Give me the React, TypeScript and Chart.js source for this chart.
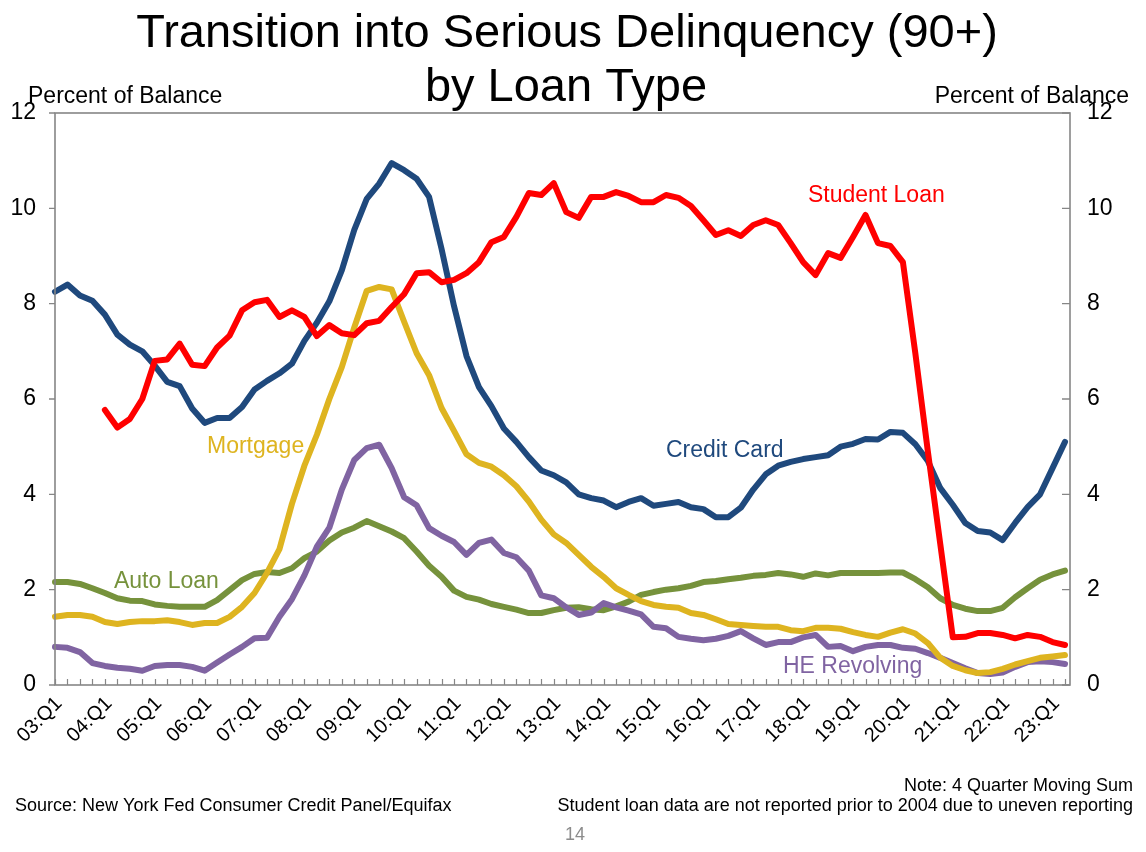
import React, { useEffect, useRef } from 'react';
import { Chart, registerables } from 'chart.js';

Chart.register(...registerables);

const FONT = '"Liberation Sans", Arial, Helvetica, sans-serif';

// Year tick labels (every 4th quarter)
const TICK_LABELS = [
  '03:Q1', '04:Q1', '05:Q1', '06:Q1', '07:Q1', '08:Q1', '09:Q1', '10:Q1', '11:Q1', '12:Q1',
  '13:Q1', '14:Q1', '15:Q1', '16:Q1', '17:Q1', '18:Q1', '19:Q1', '20:Q1', '21:Q1', '22:Q1', '23:Q1',
];

// Quarterly categories 03:Q1 .. 23:Q2
const QUARTERS: string[] = [];
for (let yr = 3; yr <= 23; yr++) {
  for (let q = 1; q <= 4; q++) {
    if (yr === 23 && q > 2) break;
    QUARTERS.push(`${String(yr).padStart(2, '0')}:Q${q}`);
  }
}

const CREDIT_CARD = [
  8.25, 8.40, 8.17, 8.06, 7.77, 7.35, 7.14, 7.00, 6.70, 6.36,
  6.27, 5.80, 5.50, 5.60, 5.60, 5.83, 6.20, 6.38, 6.54, 6.74,
  7.22, 7.60, 8.05, 8.70, 9.55, 10.20, 10.52, 10.95, 10.80, 10.62,
  10.24, 9.15, 7.95, 6.90, 6.25, 5.85, 5.38, 5.10, 4.78, 4.50,
  4.40, 4.25, 4.00, 3.92, 3.87, 3.73, 3.84, 3.92, 3.76, 3.80,
  3.84, 3.73, 3.69, 3.52, 3.52, 3.72, 4.10, 4.42, 4.60, 4.68,
  4.74, 4.78, 4.82, 5.00, 5.06, 5.16, 5.15, 5.31, 5.29, 5.05,
  4.70, 4.13, 3.78, 3.40, 3.23, 3.20, 3.04, 3.40, 3.73, 4.00,
  4.55, 5.10,
];

const STUDENT_LOAN = [
  null, null, null, null, 5.77, 5.40, 5.58, 6.00, 6.80, 6.83,
  7.16, 6.72, 6.69, 7.08, 7.33, 7.86, 8.03, 8.08, 7.72, 7.86,
  7.72, 7.32, 7.55, 7.38, 7.34, 7.59, 7.64, 7.93, 8.20, 8.64,
  8.66, 8.45, 8.50, 8.64, 8.87, 9.29, 9.40, 9.82, 10.32, 10.28,
  10.53, 9.92, 9.80, 10.24, 10.24, 10.34, 10.26, 10.13, 10.13, 10.28,
  10.22, 10.05, 9.75, 9.44, 9.54, 9.42, 9.65, 9.75, 9.65, 9.27,
  8.87, 8.60, 9.06, 8.96, 9.40, 9.86, 9.27, 9.21, 8.87, 6.95,
  4.90, 2.95, 1.00, 1.01, 1.09, 1.09, 1.05, 0.98, 1.05, 1.01,
  0.90, 0.84,
];

const MORTGAGE = [
  1.43, 1.47, 1.47, 1.43, 1.32, 1.28, 1.32, 1.34, 1.34, 1.36,
  1.32, 1.26, 1.30, 1.30, 1.43, 1.64, 1.93, 2.35, 2.85, 3.80,
  4.60, 5.25, 6.00, 6.67, 7.50, 8.27, 8.35, 8.30, 7.62, 6.96,
  6.50, 5.81, 5.33, 4.84, 4.66, 4.58, 4.40, 4.17, 3.85, 3.47,
  3.16, 2.98, 2.73, 2.48, 2.27, 2.03, 1.89, 1.76, 1.68, 1.64,
  1.62, 1.51, 1.47, 1.38, 1.28, 1.26, 1.24, 1.22, 1.22, 1.15,
  1.13, 1.20, 1.20, 1.18, 1.11, 1.05, 1.01, 1.10, 1.17, 1.08,
  0.88, 0.57, 0.40, 0.31, 0.25, 0.27, 0.34, 0.43, 0.50, 0.57,
  0.60, 0.63,
];

const AUTO_LOAN = [
  2.16, 2.16, 2.12, 2.03, 1.93, 1.82, 1.77, 1.76, 1.69, 1.66,
  1.64, 1.64, 1.64, 1.78, 1.99, 2.20, 2.33, 2.37, 2.35, 2.45,
  2.66, 2.80, 3.03, 3.20, 3.30, 3.44, 3.33, 3.22, 3.08, 2.80,
  2.50, 2.27, 1.98, 1.85, 1.79, 1.70, 1.64, 1.58, 1.51, 1.51,
  1.57, 1.62, 1.63, 1.59, 1.57, 1.65, 1.75, 1.89, 1.95, 2.00,
  2.03, 2.08, 2.16, 2.18, 2.22, 2.25, 2.29, 2.31, 2.35, 2.32,
  2.27, 2.34, 2.30, 2.35, 2.35, 2.35, 2.35, 2.36, 2.36, 2.22,
  2.05, 1.82, 1.68, 1.60, 1.55, 1.55, 1.62, 1.84, 2.03, 2.21,
  2.32, 2.40,
];

const HE_REVOLVING = [
  0.80, 0.78, 0.69, 0.46, 0.40, 0.36, 0.34, 0.30, 0.40, 0.42,
  0.42, 0.38, 0.30, 0.47, 0.64, 0.80, 0.98, 0.99, 1.43, 1.80,
  2.30, 2.90, 3.30, 4.10, 4.72, 4.97, 5.04, 4.55, 3.94, 3.77,
  3.29, 3.13, 3.00, 2.73, 2.98, 3.05, 2.77, 2.68, 2.40, 1.88,
  1.82, 1.63, 1.47, 1.52, 1.72, 1.63, 1.56, 1.48, 1.22, 1.19,
  1.01, 0.97, 0.94, 0.97, 1.03, 1.13, 0.98, 0.84, 0.90, 0.90,
  1.00, 1.05, 0.80, 0.82, 0.71, 0.80, 0.84, 0.84, 0.78, 0.76,
  0.67, 0.57, 0.46, 0.35, 0.25, 0.23, 0.26, 0.38, 0.48, 0.50,
  0.48, 0.44,
];

const Y_TICKS = [0, 2, 4, 6, 8, 10, 12];

const COLORS = {
  student: '#FF0000',
  card: '#1F497D',
  mortgage: '#DEB420',
  auto: '#76923C',
  he: '#8064A2',
};

// Series name labels placed in data coordinates (quarter index, percent)
const SERIES_LABELS = [
  { text: 'Student Loan', q: 60.38, v: 10.13, color: COLORS.student },
  { text: 'Credit Card', q: 49.0, v: 4.78, color: COLORS.card },
  { text: 'Mortgage', q: 12.19, v: 4.87, color: COLORS.mortgage },
  { text: 'Auto Loan', q: 4.73, v: 2.03, color: COLORS.auto },
  { text: 'HE Revolving', q: 58.38, v: 0.25, color: COLORS.he },
];

const TITLE_LINES = ['Transition into Serious Delinquency (90+)', 'by Loan Type'];
const AXIS_TITLE = 'Percent of Balance';
const NOTE_1 = 'Note: 4 Quarter Moving Sum';
const NOTE_2 = 'Student loan data are not reported prior to 2004 due to uneven reporting';
const SOURCE = 'Source: New York Fed Consumer Credit Panel/Equifax';
const PAGE = '14';

export default function App() {
  const ref = useRef<HTMLCanvasElement | null>(null);

  useEffect(() => {
    document.body.style.margin = '0';
    const canvas = ref.current;
    if (!canvas) return;

    const toPts = (arr: (number | null)[]) => arr.map((v, i) => ({ x: i, y: v }));

    const overlay = {
      id: 'overlay',
      afterDraw(chart: any) {
        const { ctx, chartArea: a, scales } = chart;
        const xs = scales.x;
        const ys = scales.y;
        ctx.save();
        // plot frame
        ctx.strokeStyle = '#868686';
        ctx.lineWidth = 1.6;
        ctx.strokeRect(a.left, a.top, a.right - a.left, a.bottom - a.top);
        // quarter tick marks (inside)
        ctx.lineWidth = 1.2;
        ctx.beginPath();
        for (let i = 0; i < QUARTERS.length; i++) {
          const px = Math.round(xs.getPixelForValue(i)) + 0.5;
          ctx.moveTo(px, a.bottom);
          ctx.lineTo(px, a.bottom - 6);
        }
        ctx.stroke();
        // y tick marks
        ctx.lineWidth = 1.4;
        ctx.beginPath();
        for (const v of Y_TICKS) {
          const py = ys.getPixelForValue(v);
          ctx.moveTo(a.left - 6, py);
          ctx.lineTo(a.left, py);
          ctx.moveTo(a.right - 8, py);
          ctx.lineTo(a.right, py);
        }
        ctx.stroke();

        // series labels
        ctx.font = `23px ${FONT}`;
        ctx.textAlign = 'left';
        ctx.textBaseline = 'alphabetic';
        for (const l of SERIES_LABELS) {
          ctx.fillStyle = l.color;
          ctx.fillText(l.text, xs.getPixelForValue(l.q), ys.getPixelForValue(l.v));
        }

        // title
        ctx.fillStyle = '#000';
        ctx.font = `47px ${FONT}`;
        ctx.textAlign = 'center';
        ctx.fillText(TITLE_LINES[0], 567, 47);
        ctx.fillText(TITLE_LINES[1], 566, 101);

        // axis titles
        ctx.font = `23px ${FONT}`;
        ctx.textAlign = 'left';
        ctx.fillText(AXIS_TITLE, 28, 103);
        ctx.textAlign = 'right';
        ctx.fillText(AXIS_TITLE, 1129, 103);

        // notes
        ctx.font = `18px ${FONT}`;
        ctx.textAlign = 'right';
        ctx.fillText(NOTE_1, 1133, 791);
        ctx.fillText(NOTE_2, 1133, 811);
        ctx.textAlign = 'left';
        ctx.fillText(SOURCE, 15, 811);
        ctx.fillStyle = '#8c8c8c';
        ctx.textAlign = 'center';
        ctx.fillText(PAGE, 575, 840);
        ctx.restore();
      },
    };

    const line = (label: string, data: (number | null)[], color: string) => ({
      label,
      data: toPts(data),
      borderColor: color,
      backgroundColor: color,
      borderWidth: 6,
      pointRadius: 0,
      tension: 0,
      borderJoinStyle: 'round' as const,
      borderCapStyle: 'round' as const,
      spanGaps: false,
      yAxisID: 'y',
      clip: 8,
    });

    const chart = new Chart(canvas, {
      type: 'line',
      data: {
        datasets: [
          line('Student Loan', STUDENT_LOAN, COLORS.student),
          line('Credit Card', CREDIT_CARD, COLORS.card),
          line('Mortgage', MORTGAGE, COLORS.mortgage),
          line('HE Revolving', HE_REVOLVING, COLORS.he),
          line('Auto Loan', AUTO_LOAN, COLORS.auto),
        ],
      },
      options: {
        animation: false,
        responsive: false,
        maintainAspectRatio: false,
        layout: { padding: { top: 113, left: 0, right: 0, bottom: 0 } },
        plugins: {
          legend: { display: false },
          tooltip: { enabled: false },
          title: { display: false },
        },
        scales: {
          x: {
            type: 'linear',
            position: 'bottom',
            min: 0,
            max: 81.4,
            grid: { display: false, drawTicks: false },
            border: { display: false },
            afterBuildTicks: (scale: any) => {
              scale.ticks = TICK_LABELS.map((_, k) => ({ value: k * 4 }));
            },
            afterFit: (scale: any) => {
              scale.height = 167;
            },
            ticks: {
              autoSkip: false,
              minRotation: 45,
              maxRotation: 45,
              padding: 7,
              labelOffset: 4,
              color: '#000',
              font: { family: FONT, size: 20 },
              callback: (v: any) => TICK_LABELS[Math.round(Number(v) / 4)] ?? '',
            },
          },
          y: {
            type: 'linear',
            position: 'left',
            min: 0,
            max: 12,
            grid: { display: false, drawTicks: false },
            border: { display: false },
            afterFit: (scale: any) => {
              scale.width = 55;
            },
            ticks: {
              stepSize: 2,
              padding: 19,
              color: '#000',
              font: { family: FONT, size: 23 },
            },
          },
          y2: {
            type: 'linear',
            position: 'right',
            min: 0,
            max: 12,
            grid: { display: false, drawTicks: false },
            border: { display: false },
            afterFit: (scale: any) => {
              scale.width = 76;
            },
            ticks: {
              stepSize: 2,
              padding: 17,
              color: '#000',
              font: { family: FONT, size: 23 },
            },
          },
        },
      },
      plugins: [overlay],
    });

    return () => chart.destroy();
  }, []);

  return (
    <div style={{ width: 1146, height: 852, position: 'relative', background: '#fff' }}>
      <canvas ref={ref} width={1146} height={852} style={{ display: 'block', width: 1146, height: 852 }} />
    </div>
  );
}
